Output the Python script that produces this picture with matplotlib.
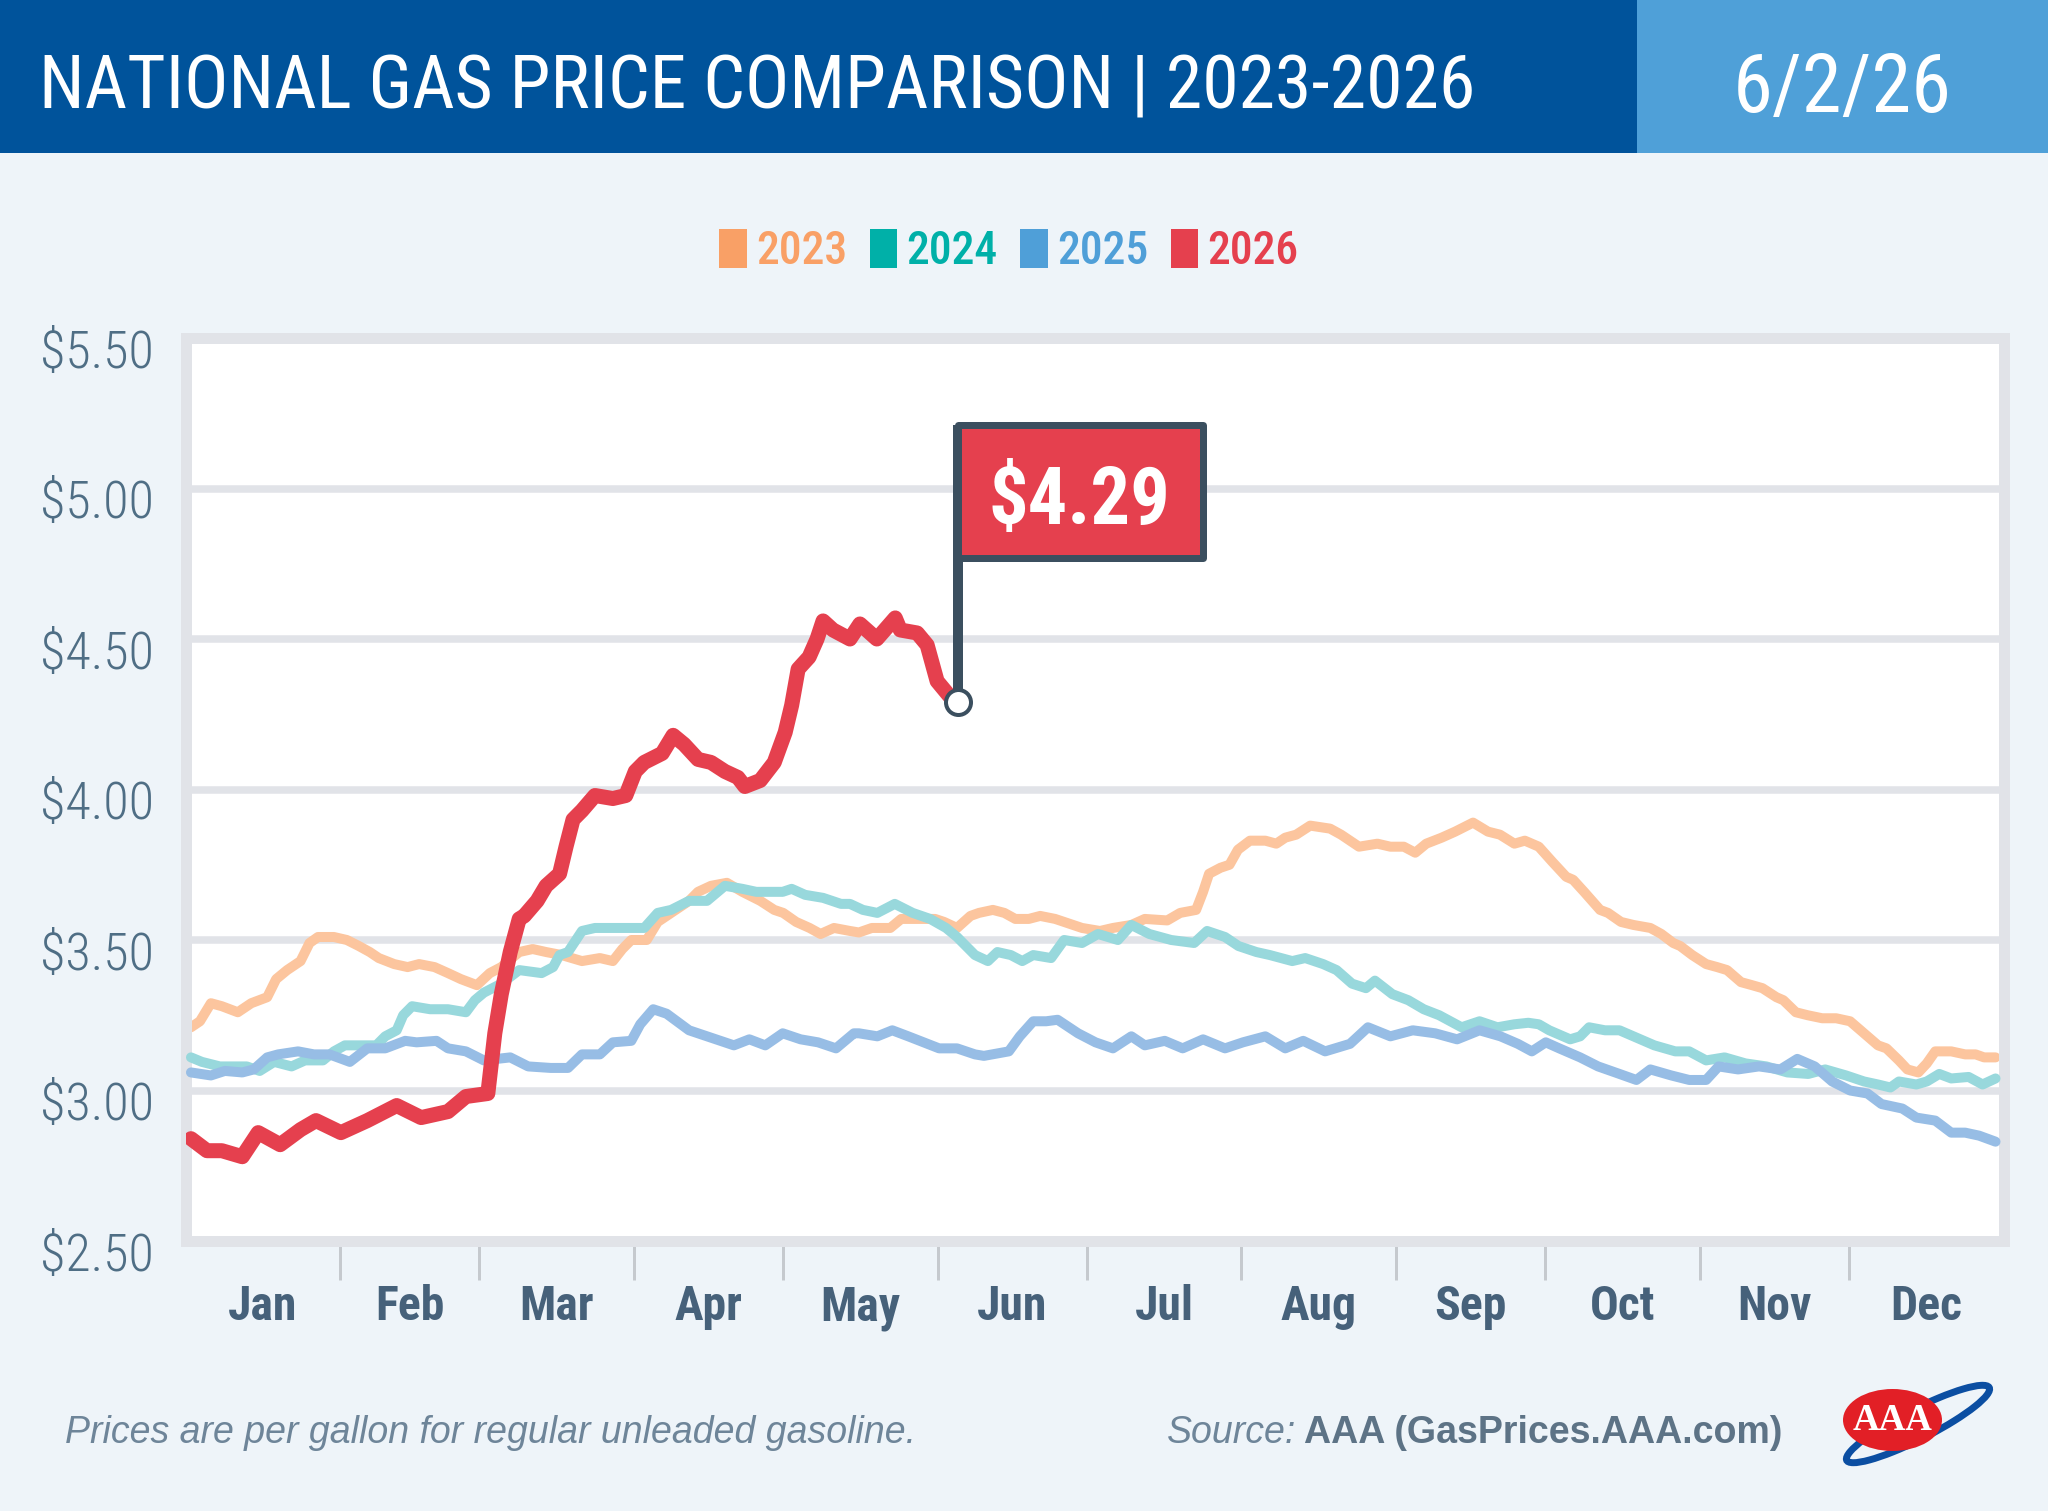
import matplotlib
matplotlib.use('Agg')
import matplotlib.pyplot as plt
from matplotlib import font_manager
from matplotlib.patches import Rectangle, Ellipse, Arc

# day of year / regular gas price ($ per gallon)
days_2023 = [1.1, 2.9, 5.1, 7.3, 10.5, 13.2, 16.4, 18.2, 20.4, 23.1, 24.9, 26.6, 29.8, 32.4, 34.8, 37.0, 38.8, 41.9,
             44.6, 46.9, 50.0, 52.7, 55.3, 58.5, 61.1, 63.4, 67.0, 69.7, 72.4, 75.5, 79.6, 83.2, 85.8, 87.7, 89.5,
             92.6, 94.8, 97.5, 101.1, 102.9, 105.5, 108.7, 111.8, 115.4, 118.2, 120.0, 122.6, 125.3, 127.5, 130.2,
             133.4, 135.2, 137.8, 141.5, 143.7, 146.9, 150.5, 152.3, 154.9, 157.6, 159.3, 162.1, 164.4, 166.6,
             169.3, 171.6, 174.6, 177.3, 180.0, 183.6, 186.2, 189.9, 192.6, 197.1, 199.7, 202.9, 204.3, 205.5,
             207.8, 209.6, 211.3, 213.7, 216.8, 219.0, 220.8, 223.0, 225.8, 229.8, 232.0, 235.6, 239.3, 241.9,
             244.6, 246.9, 249.1, 252.2, 254.9, 258.5, 261.5, 263.9, 266.8, 268.9, 271.7, 274.4, 277.2, 278.6,
             280.8, 284.0, 285.6, 288.2, 290.7, 294.1, 296.3, 298.7, 300.1, 302.5, 305.3, 307.5, 309.5, 312.3,
             314.5, 316.6, 319.4, 320.8, 323.3, 325.7, 328.6, 331.4, 334.2, 337.7, 339.8, 341.5, 344.0, 345.7,
             347.9, 349.6, 351.3, 354.5, 357.3, 359.4, 361.1, 363.4]
price_2023 = [3.21, 3.23, 3.29, 3.28, 3.26, 3.29, 3.31, 3.37, 3.40, 3.43, 3.49, 3.51, 3.51, 3.50, 3.48, 3.46, 3.44,
              3.42, 3.41, 3.42, 3.41, 3.39, 3.37, 3.35, 3.39, 3.41, 3.46, 3.47, 3.46, 3.45, 3.43, 3.44, 3.43, 3.47,
              3.50, 3.50, 3.56, 3.59, 3.63, 3.66, 3.68, 3.69, 3.66, 3.63, 3.60, 3.59, 3.56, 3.54, 3.52, 3.54, 3.53,
              3.525, 3.54, 3.54, 3.57, 3.57, 3.57, 3.56, 3.54, 3.58, 3.59, 3.60, 3.59, 3.57, 3.57, 3.58, 3.57, 3.555,
              3.54, 3.53, 3.54, 3.55, 3.57, 3.565, 3.59, 3.60, 3.66, 3.72, 3.74, 3.75, 3.80, 3.83, 3.83, 3.82, 3.84,
              3.85, 3.88, 3.87, 3.85, 3.81, 3.82, 3.81, 3.81, 3.79, 3.82, 3.84, 3.86, 3.89, 3.86, 3.85, 3.82, 3.83,
              3.81, 3.76, 3.71, 3.70, 3.66, 3.60, 3.59, 3.56, 3.55, 3.54, 3.52, 3.49, 3.48, 3.45, 3.42, 3.41, 3.40,
              3.36, 3.35, 3.34, 3.31, 3.30, 3.26, 3.25, 3.24, 3.24, 3.23, 3.18, 3.15, 3.14, 3.10, 3.07, 3.06, 3.09,
              3.13, 3.13, 3.12, 3.12, 3.11, 3.11]

days_2024 = [1.1, 3.3, 6.9, 12.3, 14.9, 17.8, 21.3, 24.0, 27.6, 29.8, 32.0, 34.8, 38.3, 40.1, 42.4, 43.7, 45.5, 49.1,
             52.7, 56.3, 58.1, 59.9, 63.4, 67.0, 71.5, 73.8, 75.1, 76.8, 79.6, 82.2, 87.7, 92.1, 94.8, 97.5, 101.1,
             104.7, 108.3, 111.8, 114.6, 119.9, 121.7, 124.4, 128.0, 131.6, 133.4, 136.0, 138.9, 142.4, 146.0,
             149.5, 152.7, 154.9, 158.5, 161.1, 163.0, 165.7, 168.0, 170.2, 173.8, 176.4, 180.0, 183.2, 187.2,
             189.9, 193.5, 197.9, 202.5, 205.1, 208.7, 211.4, 215.0, 217.7, 222.2, 224.8, 228.4, 231.1, 234.2,
             237.0, 238.8, 242.3, 245.5, 248.6, 251.7, 256.2, 259.8, 263.4, 266.8, 269.6, 271.7, 273.8, 278.0,
             280.0, 281.8, 285.0, 287.9, 292.1, 294.9, 299.1, 301.9, 305.3, 309.0, 313.2, 317.4, 321.6, 325.8,
             329.2, 333.4, 337.0, 339.8, 342.3, 344.0, 347.5, 349.6, 352.1, 354.5, 358.0, 360.8, 363.4]
price_2024 = [3.11, 3.095, 3.08, 3.08, 3.065, 3.095, 3.08, 3.10, 3.10, 3.13, 3.15, 3.15, 3.15, 3.18, 3.20, 3.25,
              3.28, 3.27, 3.27, 3.26, 3.30, 3.325, 3.355, 3.40, 3.39, 3.41, 3.45, 3.46, 3.53, 3.54, 3.54, 3.54, 3.59,
              3.60, 3.63, 3.63, 3.68, 3.67, 3.66, 3.66, 3.67, 3.65, 3.64, 3.62, 3.62, 3.60, 3.59, 3.62, 3.59, 3.57,
              3.54, 3.51, 3.45, 3.43, 3.46, 3.45, 3.43, 3.45, 3.44, 3.50, 3.49, 3.52, 3.50, 3.55, 3.52, 3.50, 3.49,
              3.53, 3.51, 3.48, 3.46, 3.45, 3.43, 3.44, 3.42, 3.40, 3.355, 3.34, 3.365, 3.32, 3.30, 3.27, 3.25, 3.21,
              3.23, 3.21, 3.22, 3.225, 3.22, 3.20, 3.17, 3.18, 3.21, 3.20, 3.20, 3.17, 3.15, 3.13, 3.13, 3.10, 3.11,
              3.09, 3.08, 3.06, 3.055, 3.07, 3.05, 3.03, 3.02, 3.01, 3.03, 3.02, 3.03, 3.055, 3.04, 3.045, 3.02, 3.04]

days_2025 = [1.1, 5.1, 7.9, 11.4, 13.7, 16.4, 18.6, 22.6, 25.8, 28.9, 33.0, 36.5, 40.1, 44.1, 46.4, 50.4, 52.7, 56.3,
             59.9, 65.2, 68.8, 73.3, 76.8, 79.6, 83.2, 85.8, 89.5, 91.3, 93.9, 96.6, 101.1, 104.7, 110.1, 113.2,
             116.4, 119.9, 123.5, 127.0, 130.6, 134.2, 135.2, 138.9, 141.9, 145.1, 148.2, 151.3, 154.9, 158.5,
             160.3, 165.3, 167.5, 170.2, 172.8, 175.1, 179.2, 182.7, 186.2, 189.9, 192.6, 196.6, 200.2, 204.3,
             208.7, 212.3, 216.8, 220.8, 224.4, 228.8, 233.8, 237.4, 241.9, 246.4, 250.9, 255.3, 259.8, 264.0,
             267.5, 270.3, 273.1, 275.8, 280.0, 283.6, 287.9, 291.3, 294.1, 298.3, 301.9, 305.3, 307.8, 311.7,
             315.9, 320.2, 323.6, 327.1, 330.6, 334.2, 337.7, 340.5, 344.7, 347.5, 351.3, 354.5, 357.3, 360.1, 363.4]
price_2025 = [3.06, 3.05, 3.065, 3.06, 3.07, 3.11, 3.12, 3.13, 3.12, 3.12, 3.095, 3.14, 3.14, 3.165, 3.16, 3.165,
              3.14, 3.13, 3.10, 3.11, 3.08, 3.075, 3.075, 3.12, 3.12, 3.16, 3.165, 3.22, 3.27, 3.255, 3.20, 3.18,
              3.15, 3.17, 3.15, 3.19, 3.17, 3.16, 3.14, 3.19, 3.19, 3.18, 3.20, 3.18, 3.16, 3.14, 3.14, 3.12, 3.115,
              3.13, 3.18, 3.23, 3.23, 3.235, 3.19, 3.16, 3.14, 3.18, 3.15, 3.165, 3.14, 3.17, 3.14, 3.16, 3.18, 3.14,
              3.165, 3.13, 3.155, 3.21, 3.18, 3.20, 3.19, 3.17, 3.20, 3.18, 3.155, 3.13, 3.16, 3.14, 3.11, 3.08,
              3.055, 3.035, 3.07, 3.05, 3.035, 3.035, 3.08, 3.07, 3.08, 3.07, 3.105, 3.08, 3.03, 3.00, 2.99, 2.955,
              2.94, 2.91, 2.90, 2.86, 2.86, 2.85, 2.83]

days_2026 = [1.1, 4.3, 7.3, 11.4, 14.6, 19.0, 23.1, 26.2, 31.2, 36.5, 42.4, 47.3, 52.7, 56.3, 60.7, 62.1, 63.4, 65.2,
             67.0, 68.0, 70.6, 72.4, 75.1, 76.4, 77.8, 79.6, 82.2, 85.8, 88.4, 90.3, 92.1, 95.7, 97.9, 100.1, 102.9,
             105.5, 108.3, 110.9, 112.3, 115.4, 118.2, 120.4, 121.7, 123.0, 125.2, 126.8, 128.0, 130.0, 133.4,
             135.4, 138.8, 142.5, 143.5, 146.9, 148.9, 150.9, 153.4, 155.1]
price_2026 = [2.84, 2.80, 2.80, 2.78, 2.86, 2.82, 2.87, 2.90, 2.86, 2.90, 2.95, 2.91, 2.93, 2.98, 2.99, 3.19, 3.32,
              3.46, 3.57, 3.58, 3.63, 3.68, 3.72, 3.81, 3.90, 3.93, 3.98, 3.97, 3.98, 4.06, 4.09, 4.12, 4.18, 4.15,
              4.10, 4.09, 4.06, 4.04, 4.01, 4.03, 4.09, 4.19, 4.28, 4.40, 4.44, 4.50, 4.56, 4.53, 4.50, 4.55, 4.50,
              4.57, 4.53, 4.52, 4.48, 4.36, 4.31, 4.29]

years = ['2023', '2024', '2025', '2026']
legend_colors = ['#f9a066', '#00b0a8', '#4f9fd8', '#e5404e']
line_colors = ['#fcc59e', '#98d8dc', '#97bde5', '#e5404e']

months = ['Jan', 'Feb', 'Mar', 'Apr', 'May', 'Jun', 'Jul', 'Aug', 'Sep', 'Oct', 'Nov', 'Dec']
month_len = [31, 28, 31, 30, 31, 30, 31, 31, 30, 31, 30, 31]
price_ticks = [2.5, 3.0, 3.5, 4.0, 4.5, 5.0, 5.5]

title = 'NATIONAL GAS PRICE COMPARISON | 2023-2026'
date_label = '6/2/26'
note = 'Prices are per gallon for regular unleaded gasoline.'

BG = '#eef4f9'
HEADER = '#00539b'
DATEBOX = '#4fa0d8'
GRID = '#e1e3e8'
YLAB = '#4f6e85'
MONTHC = '#46617a'
SLATE = '#3b4f5f'
NOTEC = '#6e8599'

W, H = 2048, 1511
PX = 0.72  # points per pixel at dpi 100

names = {f.name for f in font_manager.fontManager.ttflist}
narrow = [n for n in ['Roboto Condensed', 'Liberation Sans Narrow', 'Open Sans Condensed',
                      'Noto Sans Condensed', 'DejaVu Sans Condensed'] if n in names]
plt.rcParams['font.family'] = narrow + ['DejaVu Sans']
plt.rcParams['font.stretch'] = 'condensed'
PLAIN = ['Liberation Sans', 'DejaVu Sans']

fig = plt.figure(figsize=(W / 100, H / 100), dpi=100, facecolor=BG)
rend = fig.canvas.get_renderer()


def fy(py):
    return 1 - py / H


def fit(texts, max_w):
    # shrink a group of texts so the widest one is at most max_w pixels
    w = max(t.get_window_extent(rend).width for t in texts)
    if w > max_w:
        for t in texts:
            t.set_fontsize(t.get_fontsize() * max_w / w)
    return texts[0].get_fontsize()


# header
fig.add_artist(Rectangle((0, fy(153)), 1, 153 / H, transform=fig.transFigure,
                         facecolor=HEADER, edgecolor='none', zorder=0))
fig.add_artist(Rectangle((1637 / W, fy(153)), (W - 1637) / W, 153 / H, transform=fig.transFigure,
                         facecolor=DATEBOX, edgecolor='none', zorder=0))
t = fig.text(39 / W, fy(108), title, color='white', fontsize=66, va='baseline')
fit([t], 1436)
t = fig.text(1842 / W, fy(112), date_label, color='white', fontsize=70, ha='center', va='baseline')
fit([t], 219)

# chart
ax = fig.add_axes([185.5 / W, fy(1241), (2003.5 - 185.5) / W, (1241 - 338) / H])
ax.set_facecolor('white')
ax.set_xlim(0, 365)
ax.set_ylim(2.5, 5.5)
for s in ax.spines.values():
    s.set_color(GRID)
    s.set_linewidth(11 * PX)
ax.set_yticks(price_ticks)
ax.yaxis.grid(True, color=GRID, lw=7.5 * PX)
ax.set_axisbelow(True)
ax.tick_params(axis='y', length=0, labelleft=False)

starts = [sum(month_len[:i]) for i in range(12)]
ax.set_xticks(starts[1:])
ax.tick_params(axis='x', length=39 * PX, width=3 * PX, color='#c5c9ce', labelbottom=False)

all_days = [days_2023, days_2024, days_2025, days_2026]
all_prices = [price_2023, price_2024, price_2025, price_2026]
for i, (d, p) in enumerate(zip(all_days, all_prices)):
    lw = 15 if i == 3 else 10
    ax.plot(d, p, color=line_colors[i], lw=lw * PX, solid_joinstyle='round',
            solid_capstyle='round', zorder=2 + i)

# y labels
ylabs = [ax.annotate(f'${v:.2f}', xy=(0, v), xycoords=('axes fraction', 'data'),
                     xytext=(-31.5 * PX, 0), textcoords='offset points', ha='right',
                     va='baseline', fontsize=42, fontweight='light', color=YLAB) for v in price_ticks]
fs = fit(ylabs, 114)
for lab in ylabs:
    lab.xyann = (-31.5 * PX, -(11 + fs / 2) * PX)

# month labels
mlabs = [ax.annotate(m, xy=(s + n / 2, 0), xycoords=('data', 'axes fraction'), xytext=(0, 0),
                     textcoords='offset points', ha='center', va='baseline', fontsize=39,
                     fontweight='bold', color=MONTHC)
         for m, s, n in zip(months, starts, month_len)]
fs = fit(mlabs, 80)
for lab in mlabs:
    lab.xyann = (0, -(62 + fs / 2) * PX)

# flag on latest price
last_d, last_p = days_2026[-1], price_2026[-1]
ax.plot([last_d, last_d], [last_p, last_p + 0.92], color=SLATE, lw=10 * PX,
        solid_capstyle='butt', zorder=6, clip_on=False)
ax.add_patch(Rectangle((last_d, last_p + 0.48), 49.2, 0.44, facecolor='#e5404e', edgecolor=SLATE,
                       lw=7 * PX, joinstyle='round', zorder=7))
flag_t = ax.annotate(f'${last_p:.2f}', xy=(last_d, last_p), xytext=(0, 0), textcoords='offset points',
                     ha='center', va='baseline', fontsize=68, fontweight='bold', color='white', zorder=8)
fs = fit([flag_t], 182)
flag_t.xyann = ((1079 - 958) * PX, (700 - 494 - fs / 2) * PX)
ax.plot([last_d], [last_p], 'o', ms=25 * PX, mfc='white', mec=SLATE, mew=4 * PX, zorder=9, clip_on=False)

# legend
handles = [Rectangle((0, 0), 1, 1, facecolor=c, edgecolor='none') for c in legend_colors]


def make_legend(size):
    return fig.legend(handles, years, loc='center', bbox_to_anchor=(1009 / W, fy(251)), ncol=4,
                      frameon=False, fontsize=size, handlelength=0.6, handleheight=0.95,
                      handletextpad=0.2, columnspacing=0.5, labelcolor=legend_colors,
                      prop={'weight': 'medium', 'size': size},
                      borderpad=0, borderaxespad=0)


leg = make_legend(42)
lw_ = leg.get_window_extent(rend).width
if lw_ > 580:
    leg.remove()
    leg = make_legend(42 * 580 / lw_)

# footer
t = fig.text(65 / W, fy(1443), note, fontsize=27, style='italic', color=NOTEC, va='baseline',
             family=PLAIN, stretch='normal')
fit([t], 872)
src = fig.text(1782 / W, fy(1443), 'AAA (GasPrices.AAA.com)', fontsize=27, fontweight='bold',
               color='#5d7386', ha='right', va='baseline', family=PLAIN, stretch='normal')
fit([src], 480)
x0 = src.get_window_extent(rend).x0
fig.text((x0 - 7) / W, fy(1443), 'Source:', fontsize=src.get_fontsize(), style='italic', color=NOTEC,
         ha='right', va='baseline', family=PLAIN, stretch='normal')

# AAA logo, drawn in local pixel units
lax = fig.add_axes([1835 / W, fy(1480), 160 / W, 100 / H])
lax.set_xlim(0, 160)
lax.set_ylim(0, 100)
lax.axis('off')
lax.add_patch(Arc((83, 56), 160, 30, angle=27, theta1=285, theta2=250, color='#0b4ea2', lw=5, zorder=1))
lax.add_patch(Ellipse((57.5, 60), 99, 62, facecolor='#e21f26', edgecolor='none', zorder=2))
lt = lax.text(57.5, 59, 'AAA', ha='center', va='center', color='white', fontsize=48,
              fontweight='bold', family=['Liberation Serif', 'DejaVu Serif'], stretch='normal', zorder=4)
fit([lt], 80)

fig.savefig('out.png', dpi=100, facecolor=BG)
